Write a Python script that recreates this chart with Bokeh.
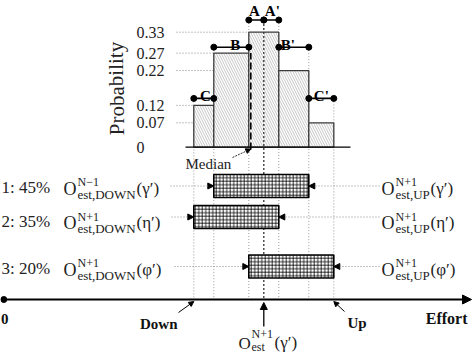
from bokeh.plotting import figure
from bokeh.models import Range1d, Arrow, NormalHead
from bokeh.embed import file_html
from bokeh.resources import INLINE
from bokeh.core.properties import value

# ---------------- data ----------------
bin_edges = [38, 42, 49, 55, 61, 66]          # effort bin edges
bin_probs = [0.12, 0.27, 0.33, 0.22, 0.07]     # probability per bin
prob_ticks = [0.33, 0.27, 0.22, 0.12, 0.07, 0]
prob_tick_labels = ["0.33", "0.27", "0.22", "0.12", "0.07", "0"]
median_effort = 49.4
estimate_effort = 52
marker_names = ["C", "B", "A", "A'", "B'", "C'"]
scen_labels = ["1: 45%", "2: 35%", "3: 20%"]
scen_down = [42, 38, 49]
scen_up = [61, 55, 66]
scen_sup_down = ["N\u22121", "N+1", "N+1"]
scen_sup_up = ["N+1", "N+1", "N+1"]
scen_param = ["(\u03b3\u2032)", "(\u03b7\u2032)", "(\u03c6\u2032)"]

# ---------------- layout ----------------
W, H = 474, 354
PX0, SX = 3.3, 5.0      # pixel of effort 0, pixels per effort unit
PY0, SY = 146.7, 348.48  # pixel of probability 0, pixels per probability unit
FONT = "Liberation Serif"


def E(px):
    return (px - PX0) / SX


def Y(py):
    return (PY0 - py) / SY


p = figure(width=W, height=H, x_range=Range1d(E(0), E(W)), y_range=Range1d(Y(H), Y(0)),
           output_backend="svg", toolbar_location=None, min_border=0,
           x_axis_type=None, y_axis_type=None)
p.grid.visible = False
p.outline_line_color = None

AXIS_PY = 299
marker_bounds = bin_edges[:3] + [estimate_effort] + bin_edges[3:]
marker_levels = [0.14, 0.287, 0.365, 0.365, 0.287, 0.14]
marker_label_off = [2, 2, 9, 9, 2, 2]     # px above marker line
marker_label_dx = [0.3, 0.8, -0.4, 0.2, -1.2, 0.0]

# vertical guide lines
vx, vtop = [], []
for i, xb in enumerate(marker_bounds):
    lv = []
    if i > 0:
        lv.append(marker_levels[i - 1])
    if i < len(marker_levels):
        lv.append(marker_levels[i])
    if xb == estimate_effort:
        continue
    vx.append(xb)
    vtop.append(max(lv))
p.segment(x0=vx, y0=vtop, x1=vx, y1=[Y(AXIS_PY)] * len(vx),
          line_color="#9a9a9a", line_width=1, line_dash="1 2")

# tick guide lines to bars
tl_x1, tl_y = [], []
for pv in prob_ticks:
    if pv in bin_probs:
        tl_x1.append(bin_edges[bin_probs.index(pv)])
        tl_y.append(pv)
p.segment(x0=[E(176)] * len(tl_y), y0=tl_y, x1=tl_x1, y1=tl_y,
          line_color="#8a8a8a", line_width=1, line_dash="1 2")

# histogram bars
p.quad(left=bin_edges[:-1], right=bin_edges[1:], bottom=0, top=bin_probs,
       fill_color="white", line_color="#3a3a3a", line_width=1.3,
       hatch_pattern="\\", hatch_color="#b8b8b8", hatch_scale=5, hatch_weight=0.8)

# center estimate line
p.segment(x0=[estimate_effort], y0=[marker_levels[2]], x1=[estimate_effort], y1=[Y(AXIS_PY)],
          line_color="#333333", line_width=1.3, line_dash="2 2")

# histogram baseline
p.segment(x0=[E(185)], y0=[0], x1=[E(350)], y1=[0], line_color="black", line_width=1.2)

# median dashed line
p.segment(x0=[median_effort], y0=[Y(149)], x1=[median_effort], y1=[bin_probs[1]],
          line_color="black", line_width=1.6, line_dash="7 3")

# bracket markers
mx0 = marker_bounds[:-1]
mx1 = marker_bounds[1:]
p.segment(x0=mx0, y0=marker_levels, x1=mx1, y1=marker_levels, line_color="black", line_width=1.6)
p.scatter(x=mx0 + mx1, y=marker_levels + marker_levels, size=6, color="black")
p.text(x=[(a + b) / 2 + d for a, b, d in zip(mx0, mx1, marker_label_dx)],
       y=[lv + o / SY for lv, o in zip(marker_levels, marker_label_off)],
       text=marker_names, text_font=value(FONT), text_font_style="bold",
       text_font_size="15px", text_align="center", text_baseline="alphabetic", color="black")

# probability tick labels + axis title
p.text(x=[E(136)] * len(prob_ticks), y=prob_ticks, text=prob_tick_labels,
       text_font=value(FONT), text_font_size="16px", text_align="left",
       text_baseline="middle", color="#222222")
p.text(x=[E(116)], y=[Y(88)], text=["Probability"], angle=1.5708,
       text_font=value(FONT), text_font_size="21px", text_align="center",
       text_baseline="middle", color="#222222")

# median label
p.text(x=[E(185)], y=[Y(163)], text=["Median"], text_font=value(FONT),
       text_font_size="15px", text_align="left", text_baseline="alphabetic", color="#222222")
p.add_layout(Arrow(end=NormalHead(size=5, fill_color="black", line_color="black"),
                   x_start=E(232), y_start=Y(157), x_end=median_effort, y_end=Y(148.5),
                   line_color="#333333", line_width=1, line_dash="2 1"))

# scenario rows
ROW_PY = [185.5, 216.5, 266.0]
ROW_TEXT_PY = [186.5, 221.0, 267.5]
ROW_HALF = 11.5
LEFT_END = [170, 171, 174]
RIGHT_START = 379
for i in range(3):
    cy = ROW_PY[i]
    p.add_layout(Arrow(end=NormalHead(size=6, fill_color="black", line_color="black"),
                       x_start=E(LEFT_END[i]), y_start=Y(cy), x_end=scen_down[i], y_end=Y(cy),
                       line_color="#888888", line_width=1, line_dash="1 2"))
    p.add_layout(Arrow(end=NormalHead(size=6, fill_color="black", line_color="black"),
                       x_start=E(RIGHT_START), y_start=Y(cy), x_end=scen_up[i], y_end=Y(cy),
                       line_color="#888888", line_width=1, line_dash="1 2"))

p.quad(left=scen_down, right=scen_up,
       bottom=[Y(c + ROW_HALF) for c in ROW_PY], top=[Y(c - ROW_HALF) for c in ROW_PY],
       fill_color="white", line_color="black", line_width=1.6,
       hatch_pattern="+", hatch_color="black", hatch_scale=3.5, hatch_weight=0.8)

p.text(x=[E(1)] * 3, y=[Y(c) for c in ROW_TEXT_PY], text=scen_labels,
       text_font=value(FONT), text_font_size="17px", text_align="left",
       text_baseline="middle", color="#222222")


def o_label(x_o, x_s, x_p, cy, sup, sub, par, size_o="18px"):
    p.text(x=[E(x_o)] * len(cy), y=[Y(c + 1.5) for c in cy], text=["O"] * len(cy),
           text_font=value(FONT), text_font_size=size_o, text_align="left",
           text_baseline="middle", color="#222222")
    p.text(x=[E(x_s)] * len(cy), y=[Y(c - 5) for c in cy], text=sup,
           text_font=value(FONT), text_font_size="12px", text_align="left",
           text_baseline="middle", color="#222222")
    p.text(x=[E(x_s)] * len(cy), y=[Y(c + 7) for c in cy], text=sub,
           text_font=value(FONT), text_font_size="13px", text_align="left",
           text_baseline="middle", color="#222222")
    p.text(x=[E(x_p)] * len(cy), y=[Y(c + 1) for c in cy], text=par,
           text_font=value(FONT), text_font_size="17px", text_align="left",
           text_baseline="middle", color="#222222")


o_label(63, 77, 136, ROW_TEXT_PY, scen_sup_down, ["est,DOWN"] * 3, scen_param)
o_label(381, 395, 430, ROW_TEXT_PY, scen_sup_up, ["est,UP"] * 3, scen_param)

# effort axis
p.add_layout(Arrow(end=NormalHead(size=9, fill_color="black", line_color="black"),
                   x_start=0, y_start=Y(AXIS_PY), x_end=E(471), y_end=Y(AXIS_PY),
                   line_color="black", line_width=2))
p.scatter(x=[0], y=[Y(AXIS_PY)], size=6, color="black")
p.text(x=[E(0.5)], y=[Y(318)], text=["0"], text_font=value(FONT), text_font_style="bold",
       text_font_size="15px", text_align="left", text_baseline="alphabetic", color="#111111")
p.text(x=[E(467)], y=[Y(318)], text=["Effort"], text_font=value(FONT), text_font_style="bold",
       text_font_size="16px", text_align="right", text_baseline="alphabetic", color="#111111")
p.text(x=[E(177)], y=[Y(323)], text=["Down"], text_font=value(FONT), text_font_style="bold",
       text_font_size="15px", text_align="right", text_baseline="alphabetic", color="#111111")
p.text(x=[E(347)], y=[Y(322)], text=["Up"], text_font=value(FONT), text_font_style="bold",
       text_font_size="15px", text_align="left", text_baseline="alphabetic", color="#111111")
p.add_layout(Arrow(end=NormalHead(size=5, fill_color="black", line_color="black"),
                   x_start=E(178), y_start=Y(312), x_end=bin_edges[0], y_end=Y(301),
                   line_color="black", line_width=1))
p.add_layout(Arrow(end=NormalHead(size=5, fill_color="black", line_color="black"),
                   x_start=E(344), y_start=Y(311), x_end=bin_edges[-1], y_end=Y(301),
                   line_color="black", line_width=1))
p.add_layout(Arrow(end=NormalHead(size=7, fill_color="black", line_color="black"),
                   x_start=estimate_effort, y_start=Y(326), x_end=estimate_effort, y_end=Y(302),
                   line_color="black", line_width=1.3))

# bottom estimate label
p.text(x=[E(238)], y=[Y(343)], text=["O"], text_font=value(FONT), text_font_size="17px",
       text_align="left", text_baseline="middle", color="#222222")
p.text(x=[E(251)], y=[Y(333)], text=["N+1"], text_font=value(FONT), text_font_size="12px",
       text_align="left", text_baseline="middle", color="#222222")
p.text(x=[E(251)], y=[Y(346)], text=["est"], text_font=value(FONT), text_font_size="12px",
       text_align="left", text_baseline="middle", color="#222222")
p.text(x=[E(274)], y=[Y(342)], text=["(\u03b3\u2032)"], text_font=value(FONT), text_font_size="17px",
       text_align="left", text_baseline="middle", color="#222222")

open("out.html", "w").write(file_html(p, INLINE))
